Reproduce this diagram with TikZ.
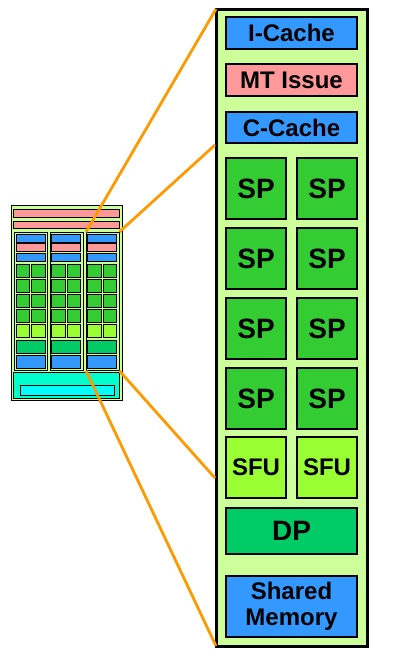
\documentclass[tikz,border=0pt]{standalone}
\usepackage{fontspec}
\setmainfont{Liberation Sans}
\definecolor{smbg}{HTML}{CCFF99}
\definecolor{cblue}{HTML}{3399FF}
\definecolor{cpink}{HTML}{FF9999}
\definecolor{cgreen}{HTML}{33CC33}
\definecolor{csfu}{HTML}{99FF33}
\definecolor{cdp}{HTML}{00CC66}
\definecolor{caqua}{HTML}{00FFCC}
\definecolor{ccyan}{HTML}{00FFFF}
\definecolor{corange}{HTML}{FF9900}
\tikzset{
  unit/.style={draw=black, line width=2pt, inner sep=0pt, outer sep=0pt, align=center,
    font=\bfseries\fontsize{24}{26}\selectfont},
  big/.style={unit, font=\bfseries\fontsize{28}{29}\selectfont},
  thin/.style={draw=black, line width=0.8pt},
  link/.style={draw=corange, line width=2.8pt},
}
\begin{document}
\begin{tikzpicture}[x=1pt,y=-1pt]
\useasboundingbox (0,0) rectangle (402,662);
% ---- small thumbnail ----
\filldraw[thin, fill=smbg] (11,205) rectangle (122.5,400);
\filldraw[thin, fill=cpink] (13.3,209.3) rectangle (119.3,217.3);
\filldraw[thin, fill=cpink] (13.3,221) rectangle (119.3,228.7);
\foreach \x in {14.3,50,86}{
  \filldraw[thin, fill=smbg] (\x,232) rectangle ++(33.3,138.7);
  \filldraw[thin, fill=cblue] (\x+1.7,234) rectangle (\x+30.7,242.3);
  \filldraw[thin, fill=cpink] (\x+1.7,243.7) rectangle (\x+30.7,251.7);
  \filldraw[thin, fill=cblue] (\x+1.7,253.3) rectangle (\x+30.7,261.7);
  \foreach \y in {264,279,294.3,309}{
    \filldraw[thin, fill=cgreen] (\x+1.7,\y) rectangle ++(13.7,13.3);
    \filldraw[thin, fill=cgreen] (\x+17,\y) rectangle ++(13.7,13.3);
  }
  \filldraw[thin, fill=csfu] (\x+1.7,324.3) rectangle ++(13.7,13);
  \filldraw[thin, fill=csfu] (\x+17,324.3) rectangle ++(13.7,13);
  \filldraw[thin, fill=cdp] (\x+1.7,340) rectangle (\x+30.7,353.7);
  \filldraw[thin, fill=cblue] (\x+1.7,355.3) rectangle (\x+30.7,368.7);
}
\filldraw[thin, fill=caqua] (13.3,372) rectangle (119.3,398.7);
\filldraw[thin, fill=ccyan] (20.3,385.3) rectangle (114.7,395.7);
\node[inner sep=0pt, outer sep=0pt, minimum width=33.3pt, minimum height=138.7pt] (col3) at (102.65,301.35) {};
% ---- enlarged multiprocessor ----
\node[draw=black, line width=3pt, fill=smbg, inner sep=0pt, outer sep=0pt,
  minimum width=151pt, minimum height=637pt] (bigbox) at (291.5,327.5) {};
\node[unit, fill=cblue, minimum width=131pt, minimum height=32pt] (icache) at (291.5,33) {I-Cache};
\node[unit, fill=cpink, minimum width=131pt, minimum height=32pt] (mt) at (291.5,80) {MT Issue};
\node[unit, fill=cblue, minimum width=131pt, minimum height=31pt] (ccache) at (291.5,127.5) {C-Cache};
\foreach \y/\n in {188.5/1,258.5/2,328.5/3,398.5/4}{
  \node[big, fill=cgreen, minimum width=60pt, minimum height=61pt] (spl\n) at (256,\y) {SP};
  \node[big, fill=cgreen, minimum width=60pt, minimum height=61pt] (spr\n) at (327,\y) {SP};
}
\node[unit, fill=csfu, minimum width=60pt, minimum height=61pt] (sful) at (256,467.5) {SFU};
\node[unit, fill=csfu, minimum width=60pt, minimum height=61pt] (sfur) at (327,467.5) {SFU};
\node[big, fill=cdp, minimum width=131pt, minimum height=46pt] (dp) at (291.5,531) {DP};
\node[unit, fill=cblue, minimum width=131pt, minimum height=61pt] (smem) at (291.5,606.5) {Shared\\Memory};
% ---- zoom lines ----
\coordinate (e2) at (215,145);
\coordinate (e3) at (215,478);
\draw[link] (col3.north west) -- (bigbox.north west);
\draw[link] (col3.north east) -- (e2);
\draw[link] (col3.south east) -- (e3);
\draw[link] (col3.south west) -- (bigbox.south west);
\end{tikzpicture}
\end{document}
